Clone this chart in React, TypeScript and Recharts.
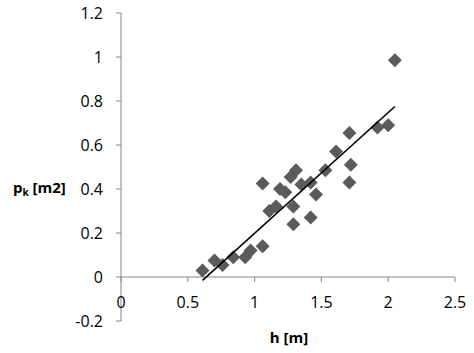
import { ScatterChart, Scatter, XAxis, YAxis, ReferenceLine } from "recharts";

// measured points: h [m] vs p_k [m2]
const hValues = [
  0.61, 0.70, 0.76, 0.84, 0.93, 0.97, 1.06, 1.06, 1.11, 1.16, 1.19, 1.23, 1.27, 1.31,
  1.29, 1.29, 1.35, 1.42, 1.46, 1.42, 1.53, 1.61, 1.71, 1.72, 1.71, 1.92, 2.0, 2.05,
];
const pkValues = [
  0.03, 0.075, 0.055, 0.09, 0.09, 0.12, 0.14, 0.425, 0.3, 0.32, 0.4, 0.385, 0.455, 0.485,
  0.32, 0.24, 0.42, 0.43, 0.375, 0.27, 0.485, 0.57, 0.655, 0.51, 0.43, 0.68, 0.69, 0.985,
];

// linear trend line end points
const trendH = [0.61, 2.05];
const trendPk = [-0.015, 0.775];

const xTicks = [0, 0.5, 1, 1.5, 2, 2.5];
const yTicks = [-0.2, 0, 0.2, 0.4, 0.6, 0.8, 1, 1.2];

const points = hValues.map((h, i) => ({ h, pk: pkValues[i] }));
const trend = trendH.map((h, i) => ({ h, pk: trendPk[i] }));

const WIDTH = 474;
const HEIGHT = 353;
const MARGIN = { top: 13, right: 19, bottom: 0, left: 0 };
const X_AXIS_HEIGHT = 32;
const Y_MIN = -0.2;
const Y_MAX = 1.2;
const plotHeight = HEIGHT - MARGIN.top - MARGIN.bottom - X_AXIS_HEIGHT;
// distance from the bottom of the plot up to p = 0, where the x axis sits
const zeroShift = (plotHeight * (0 - Y_MIN)) / (Y_MAX - Y_MIN);

const FONT = "'Open Sans', sans-serif";
const AXIS_GREY = "#868686";

const Diamond = (props: any) => {
  const { cx, cy } = props;
  if (cx == null || cy == null) return null;
  const r = 7;
  return (
    <polygon
      points={`${cx},${cy - r} ${cx + r},${cy} ${cx},${cy + r} ${cx - r},${cy}`}
      fill="#5b5b5b"
    />
  );
};

const XTick = (props: any) => {
  const { x, y, payload } = props;
  const zy = y - zeroShift;
  return (
    <g>
      <line x1={x} x2={x} y1={zy} y2={zy + 5} stroke={AXIS_GREY} strokeWidth={1} />
      <text x={x} y={zy + 31} textAnchor="middle" fontSize={16} fill="#000" fontFamily={FONT}>
        {payload.value}
      </text>
    </g>
  );
};

const App = () => {
  return (
    <div style={{ position: "absolute", left: 0, top: 0, background: "#fff" }}>
      <ScatterChart width={WIDTH} height={HEIGHT} margin={MARGIN}>
        <XAxis
          type="number"
          dataKey="h"
          domain={[0, 2.5]}
          ticks={xTicks}
          axisLine={false}
          tickLine={false}
          tickSize={0}
          tickMargin={0}
          height={X_AXIS_HEIGHT}
          tick={<XTick />}
          interval={0}
          label={{
            content: () => (
              <text x={289} y={343} textAnchor="middle" fontSize={15} fontWeight="bold" fontFamily={FONT} fill="#000">
                h [m]
              </text>
            ),
          }}
        />
        <YAxis
          type="number"
          dataKey="pk"
          domain={[Y_MIN, Y_MAX]}
          ticks={yTicks}
          width={121}
          interval={0}
          tickSize={5}
          tickMargin={13}
          axisLine={{ stroke: AXIS_GREY }}
          tickLine={{ stroke: AXIS_GREY }}
          tick={{ fontSize: 16, fill: "#000", fontFamily: FONT }}
          label={{
            content: () => (
              <text x={13} y={193} fontSize={15} fontWeight="bold" fontFamily={FONT} fill="#000">
                p
                <tspan fontSize={10} dy={3}>k</tspan>
                <tspan dy={-3}> [m2]</tspan>
              </text>
            ),
          }}
        />
        <ReferenceLine y={0} stroke={AXIS_GREY} strokeWidth={1} ifOverflow="extendDomain" />
        <Scatter data={points} shape={<Diamond />} isAnimationActive={false} />
        <Scatter
          data={trend}
          line={{ stroke: "#000", strokeWidth: 1.6 }}
          lineType="joint"
          shape={() => null}
          isAnimationActive={false}
        />
      </ScatterChart>
    </div>
  );
};

export default App;
